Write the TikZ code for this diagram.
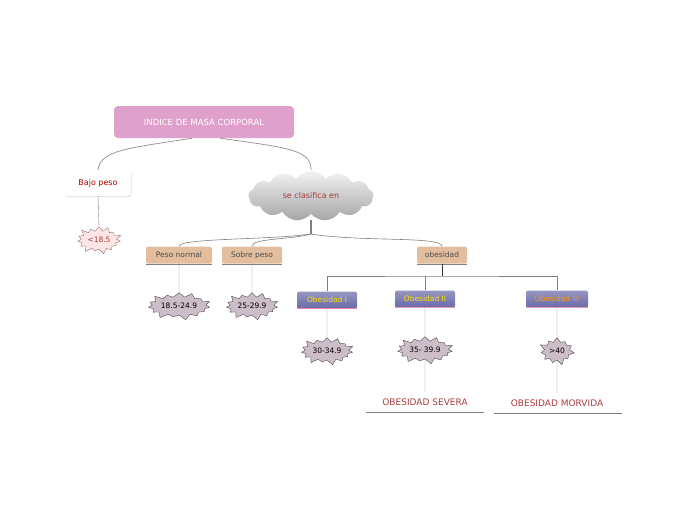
\documentclass[tikz,border=0pt]{standalone}
\usepackage{fontspec}
\setmainfont{DejaVu Sans}
\usetikzlibrary{shapes.symbols,shadows}
\definecolor{titlec}{HTML}{E0A0CC}
\definecolor{tanc}{HTML}{E2BE9E}
\definecolor{burstc}{HTML}{CDBDC8}
\definecolor{obec}{HTML}{6A6AA8}
\definecolor{redt}{HTML}{A83A3A}
\tikzset{
 conn/.style={draw=gray!80,line width=0.8pt},
 tanbox/.style={fill=tanc,rounded corners=1.5pt,minimum height=17pt,font=\fontsize{7.5}{8}\selectfont,text=black!70,inner sep=2pt},
 obebox/.style={top color=obec!70,bottom color=obec,rounded corners=1.5pt,minimum height=17pt,font=\fontsize{7.5}{8}\selectfont,text=yellow!85!orange,inner sep=2pt},
 burst/.style={starburst,starburst points=15,starburst point height=6pt,fill=burstc,draw=black!70,font=\fontsize{7.5}{8}\selectfont,inner sep=1pt,minimum height=30pt},
 redlab/.style={text=redt,font=\fontsize{9}{10}\selectfont}
}
\begin{document}
\begin{tikzpicture}[x=1pt,y=-1pt]
\useasboundingbox (0,0) rectangle (697,520);
\node[fill=titlec,rounded corners=4pt,minimum width=180pt,minimum height=32pt,text=white,font=\fontsize{8.5}{9}\selectfont] (title) at (204,122) {INDICE DE MASA CORPORAL};
\node[fill=white,rounded corners=3pt,drop shadow={opacity=0.25,shadow xshift=0.5pt,shadow yshift=-1pt},minimum width=66pt,minimum height=26pt,text=red!70!black,font=\fontsize{8}{9}\selectfont] (bajo) at (98,183) {Bajo peso};
\node[burst,fill=pink!40,draw=pink!60!black,text=redt,minimum width=42pt] (b1) at (99,240) {<18.5};
\node[cloud,cloud puffs=13,cloud puff arc=110,aspect=2.6,top color=white!90!gray,bottom color=gray!70,minimum width=125pt,minimum height=50pt,text=redt,font=\fontsize{8}{9}\selectfont] (cloud) at (311,196) {se clasifica en};
\node[tanbox,minimum width=66pt] (pn) at (179,255) {Peso normal};
\node[tanbox,minimum width=60pt] (sp) at (252,255) {Sobre peso};
\node[tanbox,minimum width=50pt] (ob) at (442,255) {obesidad};
\draw[gray] (pn.south west)--(pn.south east) (sp.south west)--(sp.south east) (ob.south west)--(ob.south east);
\node[burst,minimum width=64pt] (r1) at (179,306) {18.5-24.9};
\node[burst,minimum width=54pt] (r2) at (252,306) {25-29.9};
\node[obebox,minimum width=60pt] (o1) at (327,300) {Obesidad I};
\node[obebox,minimum width=60pt] (o2) at (425,299) {Obesidad II};
\node[obebox,minimum width=62pt,text=orange!80!yellow] (o3) at (557,299) {Obesidad III};
\draw[pink!70!purple,line width=1.2pt] (o1.south west)--(o1.south east);
\draw[purple!40,line width=0.6pt] (o2.south west)--(o2.south east) (o3.south west)--(o3.south east);
\node[burst,minimum width=54pt] (r3) at (327,351) {30-34.9};
\node[burst,minimum width=58pt] (r4) at (425,350) {35- 39.9};
\node[burst,starburst points=11,minimum width=36pt] (r5) at (557,351) {>40};
\node[redlab] (sev) at (425,402) {OBESIDAD SEVERA};
\node[redlab] (mor) at (557,403) {OBESIDAD MORVIDA};
\draw[gray] (366,412) -- (484,412) (494,413) -- (622,413);
% connectors
\draw[conn] ([xshift=-12pt]title.south) .. controls (130,148) and (100,150) .. (bajo.north);
\draw[conn] ([xshift=16pt]title.south) .. controls (290,148) and (311,150) .. (311,170);
\draw[gray,line width=1.3pt] (311,220) -- (311,234) coordinate (cb);
\draw[gray,line width=0.6pt] (cb) .. controls (270,240) and (179,238) .. (pn.north);
\draw[gray,line width=0.6pt] (cb) .. controls (290,240) and (252,238) .. (sp.north);
\draw[gray,line width=0.6pt] (cb) .. controls (360,242) and (442,236) .. (ob.north);
\draw[gray] (bajo.south) -- (b1.north);
\draw[gray] (pn.south) -- (r1.north);
\draw[gray] (sp.south) -- (r2.north);
\draw[black!80,line width=0.8pt] (ob.south) -- (442,276) coordinate (oj);
\draw[gray] (o1.north) |- (oj) -| (o3.north);
\draw[gray] (o2.north) -- (425,276);
\draw[gray] (o1.south) -- (r3.north);
\draw[gray] (o2.south) -- (r4.north);
\draw[gray] (o3.south) -- (r5.north);
\draw[gray] (r4.south) -- (425,392);
\draw[gray] (r5.south) -- (557,393);
\end{tikzpicture}
\end{document}
